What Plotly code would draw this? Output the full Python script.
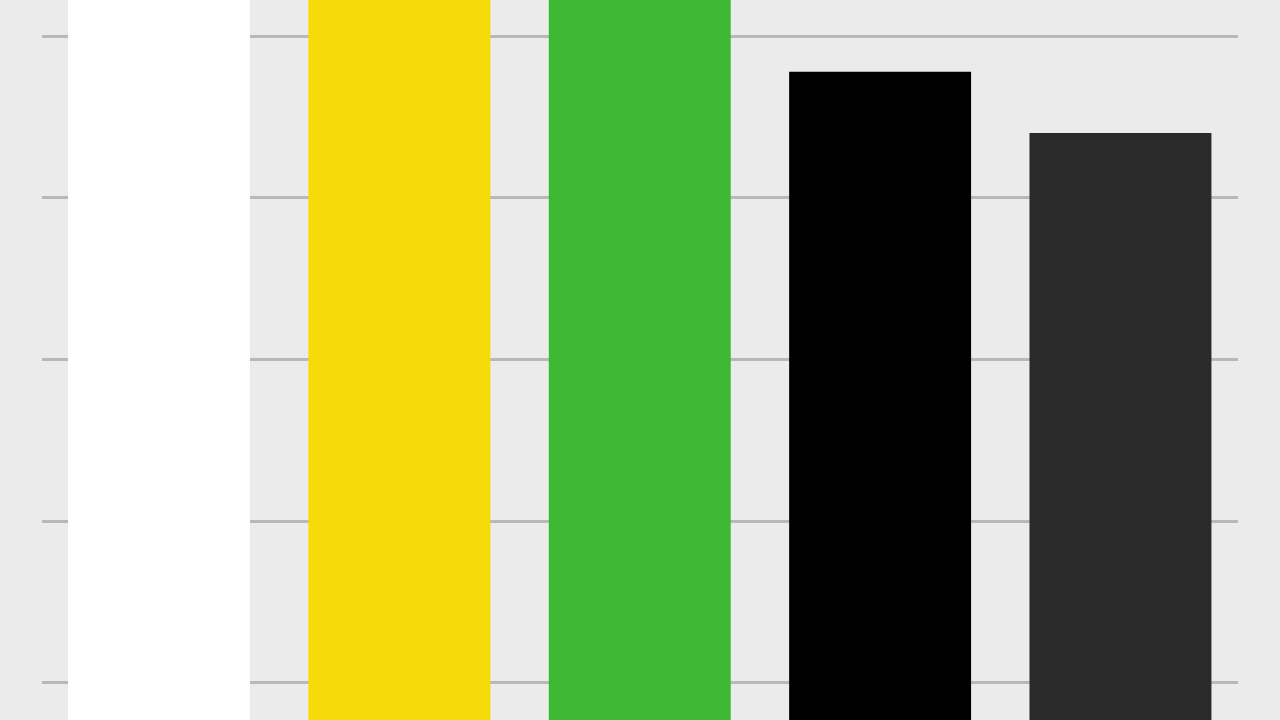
import plotly.graph_objects as go

categories = ["A", "B", "C", "D", "E"]
values = [5.6, 5.6, 5.6, 4.78, 4.40]
colors = ["#ffffff", "#f6da0a", "#3eb833", "#000000", "#2a2a2a"]

fig = go.Figure(go.Bar(
    x=list(range(len(categories))),
    y=values,
    width=0.757,
    marker=dict(color=colors, line=dict(width=0)),
))

fig.update_layout(
    width=1280, height=720,
    margin=dict(l=42, r=42, t=0, b=0),
    paper_bgcolor="#ebebeb",
    plot_bgcolor="#ebebeb",
    showlegend=False,
    xaxis=dict(range=[-0.487, 4.489], showticklabels=False, showgrid=False,
               zeroline=False, ticks=""),
    yaxis=dict(range=[0.771, 5.223], tick0=0, dtick=1, showticklabels=False,
               showgrid=True, gridcolor="#b8b8b8", gridwidth=3,
               zeroline=False, ticks=""),
)

# drop the default page margin so the figure sits at the window's corner
fig.write_html("out.html", config={"displayModeBar": False},
               post_script="document.body.style.margin='0';")
